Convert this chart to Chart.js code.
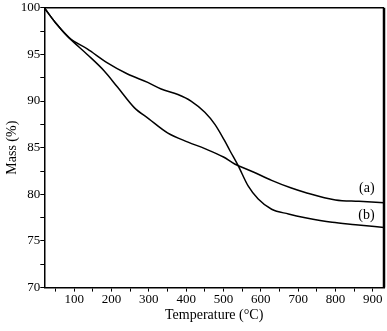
<!DOCTYPE html>
<html>
<head>
<meta charset="utf-8">
<script src="https://cdn.jsdelivr.net/npm/chart.js@4/dist/chart.umd.min.js"></script>
<style>
  html, body { margin: 0; padding: 0; background: #fff; }
  #wrap { width: 387px; height: 331px; }
</style>
</head>
<body>
<div id="wrap"><canvas id="tgaChart" width="387" height="331"></canvas></div>
<script>
// curve (a)
const tempA = [20, 50, 86, 135, 180, 216, 261, 300, 350, 405, 450, 500, 530, 580, 629, 680, 719, 800, 863, 930];
const massA = [100, 98.4, 96.8, 95.0, 93.25, 91.5, 89.3, 88.1, 86.6, 85.6, 84.9, 84.0, 83.25, 82.4, 81.5, 80.7, 80.2, 79.4, 79.25, 79.1];
// curve (b)
const tempB = [20, 50, 86, 135, 189, 243, 297, 333, 378, 413, 450, 477, 503, 517, 539, 566, 593, 629, 674, 719, 791, 854, 930];
const massB = [100, 98.4, 96.8, 95.6, 94.1, 92.9, 92.0, 91.3, 90.7, 90.0, 88.8, 87.5, 85.75, 84.7, 83.1, 80.9, 79.5, 78.4, 77.9, 77.5, 77.0, 76.75, 76.45];

const xTicks = [50, 100, 150, 200, 250, 300, 350, 400, 450, 500, 550, 600, 650, 700, 750, 800, 850, 900];
const yTicks = [70, 72.5, 75, 77.5, 80, 82.5, 85, 87.5, 90, 92.5, 95, 97.5, 100];

const curveLabels = ["(a)", "(b)"];
const labelAt = [[884, 80.6], [883, 77.8]];

const FONT = "'Liberation Serif', 'Times New Roman', serif";

function toPoints(xs, ys) {
    return xs.map((x, i) => ({ x: x, y: ys[i] }));
}

const framePlugin = {
    id: 'frame',
    afterDraw(chart) {
        const { ctx, chartArea: a, scales } = chart;
        ctx.save();
        ctx.strokeStyle = '#000';
        ctx.lineWidth = 1.5;
        ctx.beginPath();
        ctx.moveTo(a.left, a.top);
        ctx.lineTo(a.right, a.top);
        ctx.stroke();
        ctx.lineWidth = 2.5;
        ctx.beginPath();
        ctx.moveTo(a.right, a.top);
        ctx.lineTo(a.right, a.bottom);
        ctx.stroke();
        ctx.fillStyle = '#000';
        ctx.font = '14px ' + FONT;
        ctx.textAlign = 'center';
        ctx.textBaseline = 'middle';
        curveLabels.forEach((t, i) => {
            ctx.fillText(t, scales.x.getPixelForValue(labelAt[i][0]), scales.y.getPixelForValue(labelAt[i][1]));
        });
        ctx.restore();
    }
};

const CHART = document.getElementById('tgaChart');
let tgaChart = new Chart(CHART, {
    type: 'line',
    data: {
        datasets: [
            {
                label: "(a)",
                data: toPoints(tempA, massA),
                borderColor: "#000",
                borderWidth: 1.5,
                pointRadius: 0,
                fill: false,
                cubicInterpolationMode: 'monotone'
            },
            {
                label: "(b)",
                data: toPoints(tempB, massB),
                borderColor: "#000",
                borderWidth: 1.5,
                pointRadius: 0,
                fill: false,
                cubicInterpolationMode: 'monotone'
            }
        ]
    },
    options: {
        responsive: false,
        animation: false,
        layout: { padding: { top: -2, right: 3, bottom: 7, left: 4 } },
        plugins: { legend: { display: false }, tooltip: { enabled: false } },
        scales: {
            x: {
                type: 'linear',
                min: 20,
                max: 930,
                afterBuildTicks: (axis) => { axis.ticks = xTicks.map(v => ({ value: v })); },
                ticks: {
                    color: '#000',
                    font: { family: FONT, size: 13 },
                    padding: 0,
                    maxRotation: 0,
                    autoSkip: false,
                    callback: (v) => (v % 100 === 0 ? v : '')
                },
                grid: { display: true, drawOnChartArea: false, drawTicks: true, tickLength: 4, color: '#000', lineWidth: 1 },
                border: { display: true, color: '#000', width: 1.5 },
                title: { display: true, text: 'Temperature (°C)', color: '#000', font: { family: FONT, size: 14 }, padding: { top: 0, bottom: 0 } }
            },
            y: {
                min: 70,
                max: 100,
                afterBuildTicks: (axis) => { axis.ticks = yTicks.map(v => ({ value: v })); },
                ticks: {
                    color: '#000',
                    font: { family: FONT, size: 13 },
                    padding: 0,
                    autoSkip: false,
                    callback: (v) => (v % 5 === 0 ? v : '')
                },
                grid: { display: true, drawOnChartArea: false, drawTicks: true, tickLength: 4, color: '#000', lineWidth: 1 },
                border: { display: true, color: '#000', width: 1.5 },
                title: { display: true, text: 'Mass (%)', color: '#000', font: { family: FONT, size: 14 }, padding: { top: 0, bottom: 0 } }
            }
        }
    },
    plugins: [framePlugin]
});
</script>
</body>
</html>
